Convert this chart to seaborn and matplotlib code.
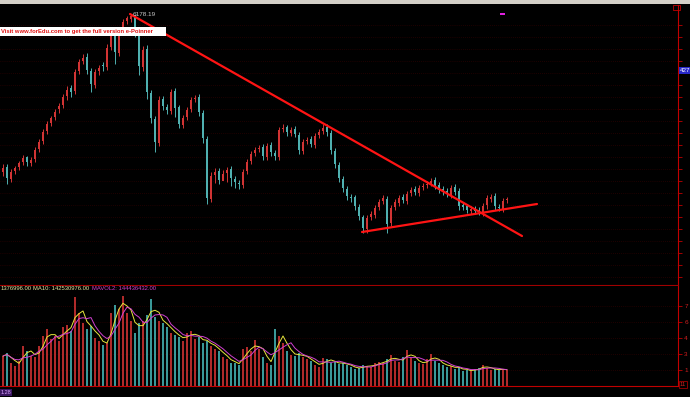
import numpy as np
import pandas as pd
import matplotlib.pyplot as plt
import matplotlib.patches as mpatches
import seaborn as sns

# daily bars (index, price in points, volume in millions)
closes = [4640, 4540, 4600, 4640, 4690, 4740, 4700, 4720, 4820, 4900,
          5000, 5080, 5140, 5200, 5260, 5350, 5420, 5400, 5600, 5700,
          5740, 5620, 5480, 5600, 5640, 5660, 5840, 5960, 5800, 6000,
          6100, 6140, 6160, 6000, 5660, 5820, 5400, 5140, 4900, 5320,
          5260, 5220, 5400, 5240, 5080, 5140, 5220, 5320, 5340, 5200,
          4940, 4340, 4560, 4600, 4520, 4580, 4620, 4540, 4500, 4480,
          4600, 4700, 4780, 4820, 4840, 4760, 4860, 4800, 4760, 5020,
          5040, 5000, 5020, 4980, 4820, 4900, 4920, 4880, 4960, 5000,
          5040, 5000, 4820, 4680, 4540, 4440, 4360, 4340, 4260, 4160,
          4040, 4140, 4180, 4240, 4300, 4340, 4080, 4240, 4300, 4340,
          4320, 4380, 4420, 4400, 4440, 4460, 4480, 4510, 4460, 4420,
          4400, 4380, 4440, 4400, 4260, 4250, 4220, 4230, 4210, 4200,
          4260, 4340, 4350, 4260, 4240, 4310, 4320]
opens = [4600, 4650, 4530, 4610, 4650, 4700, 4750, 4690, 4730, 4830,
         4910, 5010, 5090, 5150, 5230, 5270, 5360, 5440, 5410, 5610,
         5710, 5750, 5610, 5470, 5610, 5670, 5650, 5850, 5970, 5790,
         6010, 6110, 6130, 6170, 5990, 5650, 5830, 5390, 5130, 4890,
         5330, 5250, 5210, 5410, 5250, 5070, 5150, 5230, 5330, 5350,
         5190, 4930, 4330, 4570, 4610, 4510, 4590, 4630, 4530, 4490,
         4470, 4610, 4710, 4790, 4830, 4850, 4750, 4870, 4790, 4750,
         5030, 5050, 4990, 5030, 4970, 4810, 4910, 4930, 4870, 4970,
         5010, 5050, 4990, 4810, 4670, 4530, 4430, 4350, 4350, 4250,
         4150, 4030, 4150, 4170, 4250, 4310, 4330, 4090, 4250, 4290,
         4350, 4310, 4390, 4430, 4390, 4450, 4470, 4490, 4520, 4470,
         4430, 4410, 4370, 4450, 4410, 4270, 4260, 4210, 4240, 4220,
         4190, 4270, 4330, 4360, 4250, 4230, 4320]
highs = [4680, 4680, 4630, 4660, 4710, 4770, 4760, 4750, 4850, 4930,
         5030, 5110, 5160, 5230, 5290, 5380, 5460, 5470, 5630, 5730,
         5780, 5790, 5640, 5630, 5670, 5700, 5880, 5990, 6000, 6040,
         6130, 6160, 6178.19, 6172, 6020, 5860, 5870, 5420, 5160, 5360,
         5360, 5280, 5430, 5440, 5270, 5170, 5250, 5350, 5370, 5380,
         5220, 4960, 4600, 4640, 4640, 4620, 4650, 4660, 4560, 4520,
         4630, 4730, 4810, 4850, 4870, 4880, 4890, 4900, 4820, 5050,
         5080, 5070, 5050, 5060, 5000, 4930, 4950, 4960, 4990, 5030,
         5080, 5080, 5020, 4840, 4700, 4560, 4460, 4380, 4370, 4280,
         4170, 4170, 4210, 4270, 4330, 4370, 4360, 4270, 4330, 4370,
         4380, 4410, 4450, 4460, 4470, 4490, 4510, 4540, 4550, 4500,
         4460, 4440, 4470, 4480, 4440, 4300, 4280, 4260, 4260, 4250,
         4290, 4370, 4380, 4390, 4280, 4340, 4350]
lows = [4560, 4480, 4500, 4580, 4620, 4670, 4660, 4660, 4700, 4800,
        4880, 4980, 5060, 5120, 5190, 5240, 5320, 5350, 5380, 5580,
        5680, 5580, 5400, 5440, 5570, 5610, 5620, 5820, 5680, 5760,
        5970, 6080, 6100, 5950, 5570, 5610, 5330, 5090, 4800, 4860,
        5220, 5180, 5180, 5150, 5040, 5040, 5120, 5200, 5300, 5160,
        4890, 4280, 4300, 4490, 4480, 4560, 4500, 4460, 4440, 4430,
        4440, 4580, 4680, 4760, 4800, 4720, 4720, 4760, 4720, 4720,
        5000, 4960, 4960, 4950, 4780, 4780, 4880, 4850, 4840, 4940,
        4980, 4960, 4780, 4640, 4500, 4400, 4320, 4300, 4220, 4120,
        3990, 3990, 4120, 4140, 4220, 4280, 3990, 4060, 4220, 4260,
        4290, 4280, 4360, 4370, 4360, 4420, 4440, 4460, 4430, 4390,
        4370, 4350, 4340, 4370, 4220, 4220, 4190, 4180, 4180, 4170,
        4160, 4230, 4300, 4220, 4210, 4200, 4290]
volumes = [281, 309, 216, 188, 234, 375, 328, 281, 272, 375,
           469, 534, 441, 469, 422, 553, 572, 516, 834, 684,
           591, 534, 563, 450, 422, 384, 403, 684, 759, 722,
           844, 684, 609, 497, 591, 609, 666, 816, 647, 609,
           591, 553, 497, 478, 459, 422, 497, 516, 441, 459,
           403, 422, 375, 347, 328, 272, 253, 216, 216, 197,
           347, 366, 328, 431, 347, 272, 216, 197, 534, 469,
           403, 328, 291, 281, 309, 272, 253, 234, 197, 178,
           263, 253, 216, 225, 206, 216, 197, 178, 159, 169,
           197, 188, 178, 216, 225, 216, 253, 291, 234, 225,
           272, 338, 263, 234, 216, 206, 253, 300, 234, 216,
           197, 178, 188, 159, 178, 141, 150, 141, 159, 169,
           197, 169, 150, 159, 150, 159, 150]

peak_label = "6178.19"
vol_title = ["1376996.00", "MA10: 142530976.00", "MAVOL2: 144436432.00"]
vol_ticks = [150, 300, 450, 600, 750]
vol_tick_labels = ["1", "3", "4", "6", "7"]

# hand drawn trend lines (index, price)
trend1 = ([31.75, 129.75], [6180, 3960])
trend2 = ([89.75, 133.5], [4000, 4280])

W, H = 690, 397
UP, DOWN = "#d23434", "#4fb0b0"


def fx(x):
    return x / W


def fy(y):
    return 1 - y / H


def main():
    sns.set_style("dark", {"axes.facecolor": "black", "figure.facecolor": "black"})
    plt.rcParams["font.family"] = ["Liberation Sans", "DejaVu Sans"]

    df = pd.DataFrame({"open": opens, "close": closes, "high": highs,
                       "low": lows, "vol": volumes})
    df["idx"] = np.arange(len(df))
    up = df["close"] >= df["open"]
    colors = np.where(up, UP, DOWN)

    fig = plt.figure(figsize=(W / 100, H / 100), dpi=100, facecolor="black")
    ax = fig.add_axes([0, fy(285), fx(678), fy(5) - fy(285)])
    axv = fig.add_axes([0, fy(386), fx(678), fy(286) - fy(386)])

    xlim = (-0.75, (678 - 3) / 4)

    # price panel
    ax.vlines(df["idx"], df["low"], df["high"], colors=colors, lw=0.7)
    ax.bar(df["idx"], (df["close"] - df["open"]).abs().clip(lower=6),
           bottom=df[["open", "close"]].min(axis=1), width=0.55,
           color=colors, linewidth=0)
    ax.plot(*trend1, color="#ff1414", lw=1.6, solid_capstyle="round")
    ax.plot(*trend2, color="#ff1414", lw=1.6, solid_capstyle="round")
    ax.set_xlim(*xlim)
    ax.set_ylim(3470, 6270)
    ax.set_yticks(np.arange(6070, 3470, -120))
    ax.yaxis.tick_right()
    ax.tick_params(axis="y", colors="#c00000", length=3, width=0.6,
                   labelright=False)
    ax.set_xticks([])
    ax.grid(axis="y", color="#3c0000", lw=0.5, ls=(0, (1, 2)))
    for s in ["top", "left"]:
        ax.spines[s].set_visible(False)
    ax.spines["right"].set_color("#c00000")
    ax.spines["bottom"].set_color("#a00000")
    ax.spines["right"].set_linewidth(0.8)
    ax.spines["bottom"].set_linewidth(0.8)

    ax.text(32.5, 6170, peak_label, color="#c8c8c8", fontsize=4.6,
            va="center", ha="left")

    # volume panel
    axv.bar(df["idx"], df["vol"], width=0.6, color=np.where(up, "#b02a2a", "#3a9898"),
            linewidth=0)
    ma_a = df["vol"].rolling(3, min_periods=1).mean()
    ma_b = df["vol"].rolling(5, min_periods=1).mean()
    sns.lineplot(x=df["idx"], y=ma_a, color="#e6e63c", lw=0.7, ax=axv)
    sns.lineplot(x=df["idx"], y=ma_b, color="#d040d0", lw=0.7, ax=axv)
    axv.set_xlim(*xlim)
    axv.set_ylim(0, 937)
    axv.set_yticks(vol_ticks)
    axv.set_yticklabels(vol_tick_labels)
    axv.yaxis.tick_right()
    axv.tick_params(axis="y", colors="#c00000", labelcolor="#d02020",
                    length=3, width=0.6, labelsize=4.6, pad=1.5)
    axv.set_xticks([])
    axv.set_xlabel("")
    axv.set_ylabel("")
    axv.grid(axis="y", color="#3c0000", lw=0.5, ls=(0, (1, 2)))
    for s in ["top", "left"]:
        axv.spines[s].set_visible(False)
    axv.spines["right"].set_color("#c00000")
    axv.spines["bottom"].set_color("#c00000")
    axv.spines["right"].set_linewidth(0.8)
    axv.spines["bottom"].set_linewidth(0.8)

    fig.text(fx(0.5), fy(289), vol_title[0], color="#e8e8a0", fontsize=4.2, va="center")
    fig.text(fx(33), fy(289), vol_title[1], color="#e8e8a0", fontsize=4.2, va="center")
    fig.text(fx(92), fy(289), vol_title[2], color="#d040d0", fontsize=4.2, va="center")

    # decorations from the charting window
    fig.patches.append(mpatches.Rectangle((0, fy(4)), 1, 1 - fy(4), transform=fig.transFigure,
                                          facecolor="#d4d0c8", edgecolor="none"))
    fig.patches.append(mpatches.Rectangle((fx(-6), fy(36)), fx(172), fy(27) - fy(36),
                                          transform=fig.transFigure,
                                          facecolor="white", edgecolor="none"))
    fig.text(fx(1), fy(31.5), "Visit www.forEdu.com to get the full version e-Poinner",
             color="#e01010", fontsize=4.2, fontweight="bold", va="center")
    fig.patches.append(mpatches.Rectangle((fx(500), fy(15)), fx(5), fy(13) - fy(15),
                                          transform=fig.transFigure,
                                          facecolor="#e020e0", edgecolor="none"))
    fig.patches.append(mpatches.Rectangle((fx(673), fy(10)), fx(7), fy(5) - fy(10),
                                          transform=fig.transFigure,
                                          facecolor="none", edgecolor="#c00000", lw=0.6))
    fig.text(fx(679.5), fy(70.5), "427", color="white", fontsize=4.5, va="center",
             bbox=dict(boxstyle="square,pad=0.15", facecolor="#2828c8", edgecolor="none"))
    fig.text(fx(680), fy(384.5), "11", color="#d02020", fontsize=4.2, va="center",
             bbox=dict(boxstyle="square,pad=0.1", facecolor="black", edgecolor="#c00000", lw=0.5))
    fig.text(fx(0.5), fy(392.5), "1.28", color="#d8a0ff", fontsize=4, va="center",
             bbox=dict(boxstyle="square,pad=0.1", facecolor="#3a1660", edgecolor="none"))

    fig.savefig("out.png", dpi=100, facecolor="black")


if __name__ == "__main__":
    main()
